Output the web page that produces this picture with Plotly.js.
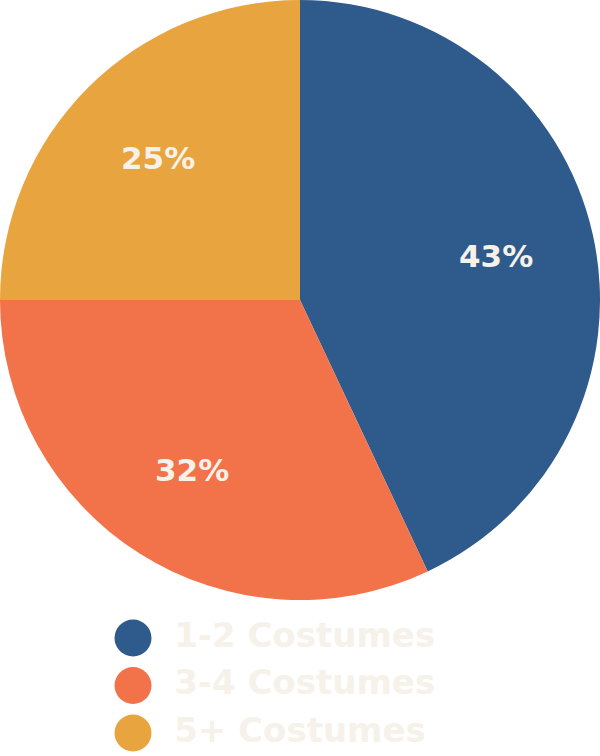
<!DOCTYPE html>
<html>
<head>
<meta charset="utf-8">
<script src="https://cdn.plot.ly/plotly-3.0.1.min.js"></script>
<style>
  html, body { margin: 0; padding: 0; background: #ffffff; }
  #chart { width: 600px; height: 756px; }
</style>
</head>
<body>
<div id="chart"></div>
<script>
const categories = ["1-2 Costumes", "3-4 Costumes", "5+ Costumes"];
const values = [43, 32, 25];
const colors = ["#2e5a8c", "#f27249", "#e8a43e"];
const textColor = "#f6f1e9";
const fontFamily = "'DejaVu Sans', 'Open Sans', sans-serif";

const W = 600, H = 756;
const pieTop = 0, pieBottom = 600;
const R = 300, cxPx = 300, cyPx = 300;

const pieTrace = {
  type: "pie",
  labels: categories,
  values: values,
  sort: false,
  direction: "clockwise",
  rotation: 0,
  marker: { colors: colors, line: { width: 0 } },
  textinfo: "none",
  textposition: "none",
  domain: { x: [0, 1], y: [(H - pieBottom) / H, 1] },
  hoverinfo: "none",
  showlegend: false
};

// Percentage labels placed along each slice's bisector
const total = values.reduce((a, b) => a + b, 0);
let cum = 0;
const annotations = values.map((v, i) => {
  const mid = (cum + v / 2) / total * 2 * Math.PI;
  cum += v;
  const r = 0.67 * R;
  const px = cxPx + r * Math.sin(mid);
  const py = cyPx - r * Math.cos(mid);
  return {
    xref: "paper", yref: "paper",
    x: px / W, y: 1 - py / H,
    xanchor: "center", yanchor: "middle",
    text: Math.round(v / total * 100) + "%",
    showarrow: false,
    font: { family: fontFamily, size: 31, color: textColor, weight: 700 }
  };
});

const legendTrace = {
  type: "scatter",
  mode: "markers+text",
  x: categories.map(() => 0),
  y: categories.map((c, i) => i),
  text: categories.map(c => "\u2002" + c),
  textposition: "middle right",
  textfont: { family: fontFamily, size: 34, color: textColor, weight: 700 },
  marker: { size: 37, color: colors, symbol: "circle" },
  hoverinfo: "none",
  showlegend: false,
  cliponaxis: false
};

const layout = {
  width: W,
  height: H,
  margin: { l: 0, r: 0, t: 0, b: 0, pad: 0 },
  paper_bgcolor: "#ffffff",
  plot_bgcolor: "rgba(0,0,0,0)",
  showlegend: false,
  annotations: annotations,
  xaxis: { domain: [0, 1], range: [-133, 467], visible: false, fixedrange: true },
  yaxis: { domain: [0, (H - pieBottom) / H], range: [2.484, -0.8], visible: false, fixedrange: true }
};

Plotly.newPlot("chart", [pieTrace, legendTrace], layout, { displayModeBar: false, staticPlot: true });
</script>
</body>
</html>
